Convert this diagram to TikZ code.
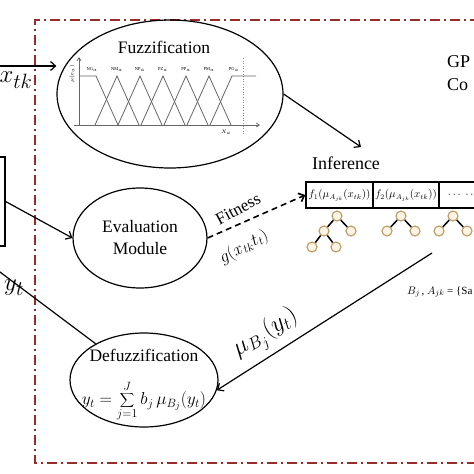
\documentclass[tikz,border=0pt]{standalone}
\usepackage{fontspec}
\setmainfont{Liberation Serif}
\usetikzlibrary{arrows.meta,shapes.geometric}
\begin{document}
\begin{tikzpicture}[x=1pt,y=-1pt,
  frame/.style={draw={rgb,255:red,150;green,45;blue,40}, line width=1.4pt, dash pattern=on 10pt off 4pt on 2pt off 4pt},
  conn/.style={line width=1.2pt, -{Straight Barb[length=5pt,width=9pt]}},
  bubble/.style={ellipse, draw, line width=1.2pt, inner sep=0pt},
  tn/.style={circle, draw={rgb,255:red,190;green,160;blue,110}, fill={rgb,255:red,252;green,244;blue,228}, line width=1.2pt, minimum size=10pt, inner sep=0pt},
  te/.style={line width=1.5pt},
  cell/.style={draw, line width=1.3pt, minimum height=26pt, inner sep=0pt, font=\fontsize{10.5}{11}\selectfont},
  mf/.style={draw=black!60, line width=0.8pt},
  lab/.style={font=\fontsize{4.5}{5}\selectfont, inner sep=0pt},
  big/.style={font=\fontsize{17.5}{22}\selectfont, inner sep=1pt},
]
\useasboundingbox (0,0) rectangle (474,474);
\clip (0,0) rectangle (474,474);

% frame
\draw[frame] (480,20) -- (35,20) -- (35,463) -- (480,463);

% Fuzzification ellipse
\node[bubble, minimum width=226pt, minimum height=148pt] (fuzz) at (170,94) {};
\node[big] (fuzzt) at (164,47) {Fuzzification};

% membership chart
\draw[mf, -{Straight Barb[length=3pt,width=4pt]}] (79,125) -- (79,57);
\draw[mf, -{Straight Barb[length=3pt,width=4pt]}] (74,125) -- (260,125);
\draw[mf] (79,76) -- (96,76) -- (118,125);
\foreach \p in {117,140,163,186,209} {
  \draw[mf] (\p-22,125) -- (\p,76) -- (\p+22,125);
}
\draw[mf] (210,125) -- (232,76) -- (256,76);
\draw[black!45, line width=0.6pt, dotted] (243,58) -- (243,135);
\node[lab] (ng) at (92,70) {NG$_a$};
\node[lab] (nm) at (117,70) {NM$_a$};
\node[lab] (np) at (140,70) {NP$_a$};
\node[lab] (pz) at (163,70) {PZ$_a$};
\node[lab] (pp) at (186,70) {PP$_a$};
\node[lab] (pm) at (209,70) {PM$_a$};
\node[lab] (pg) at (234,70) {PG$_a$};
\node[lab, rotate=90] (mu) at (72,74) {$\mu(x_a)$};
\node[lab] (xa) at (226,132) {$X_a$};

% input x_tk
\coordinate (xin) at (-5,66);
\node[font=\fontsize{31}{33}\selectfont, inner sep=0pt] (xtk) at (16,80) {$x_{tk}$};
\draw[conn] (xin) -- (fuzz.west |- xin) ;

% GP Co text
\node[font=\fontsize{18}{20}\selectfont, anchor=west, inner sep=0pt] (gp) at (447,62) {GP};
\node[font=\fontsize{18}{20}\selectfont, anchor=west, inner sep=0pt] (co) at (447,85) {Co};

% Inference
\node[font=\fontsize{18}{20}\selectfont, inner sep=0pt] (inf) at (346,163) {Inference};
\coordinate (infin) at (361,147);
\draw[conn] (fuzz.east) -- (infin);

\node[cell, minimum width=67pt] (c1) at (339.5,195) {$f_1\big(\mu_{A_{jk}}(x_{tk})\big)$};
\node[cell, minimum width=66pt] (c2) at (406,195) {$f_2\big(\mu_{A_{jk}}(x_{tk})\big)$};
\node[cell, minimum width=66pt] (c3) at (472,195) {$\cdots\;\cdots\;\cdots$};

% trees
\node[tn] (r1) at (337,216) {};
\node[tn] (a1) at (324,231) {};
\node[tn] (b1) at (351,231) {};
\node[tn] (d1) at (312,247) {};
\node[tn] (e1) at (336,247) {};
\draw[te] (r1) -- (a1); \draw[te] (r1) -- (b1);
\draw[te] (a1) -- (d1); \draw[te] (a1) -- (e1);
\node[tn] (r2) at (401,216) {};
\node[tn] (a2) at (387,231) {};
\node[tn] (b2) at (415,231) {};
\draw[te] (r2) -- (a2); \draw[te] (r2) -- (b2);
\node[tn] (r3) at (453,216) {};
\node[tn] (a3) at (439,231) {};
\node[tn] (b3) at (467,231) {};
\draw[te] (r3) -- (a3); \draw[te] (r3) -- (b3);

\node[font=\fontsize{11}{12}\selectfont, anchor=west, inner sep=0pt] (sets) at (407,292) {$B_j$\,, $A_{jk}$ = \{Sa};

% Evaluation module
\node[bubble, minimum width=134pt, minimum height=100pt, align=center, big] (eval) at (140,238) {Evaluation\\Module};

% left box
\node[draw, line width=1.2pt, minimum width=40pt, minimum height=89pt, inner sep=0pt] (lbox) at (-15,201.5) {};
\draw[conn] (lbox.east) -- (eval.west);

% Fitness
\draw[line width=1.6pt, dash pattern=on 6pt off 4pt, -{Straight Barb[length=5pt,width=9pt]}] (eval.east) -- (c1.west);
\node[font=\fontsize{17}{18}\selectfont, rotate=28, inner sep=0pt] (fit) at (238,209) {Fitness};
\node[font=\fontsize{17}{18}\selectfont, rotate=28, inner sep=0pt] (gx) at (244,247) {$g(x_{tk}t_t)$};

% Defuzzification
\node[bubble, minimum width=148pt, minimum height=94pt] (defuzz) at (144,380) {};
\node[big] (deft) at (144,355) {Defuzzification};
\node[font=\fontsize{17.5}{19}\selectfont, inner sep=0pt] (defeq) at (144,401) {$\displaystyle y_t=\sum_{j=1}^{J} b_j\,\mu_{B_j}(y_t)$};

\coordinate (yout) at (-30,249.5);
\draw[conn] (defuzz) -- (yout);
\node[font=\fontsize{31}{33}\selectfont, inner sep=0pt] (yt) at (14,288) {$y_t$};

\coordinate (infout) at (432,253);
\draw[conn] (infout) -- (defuzz.-8);
\node[font=\fontsize{27}{29}\selectfont, rotate=31, inner sep=0pt] (mub) at (266,334) {$\mu_{B_j}(y_t)$};
\end{tikzpicture}
\end{document}
